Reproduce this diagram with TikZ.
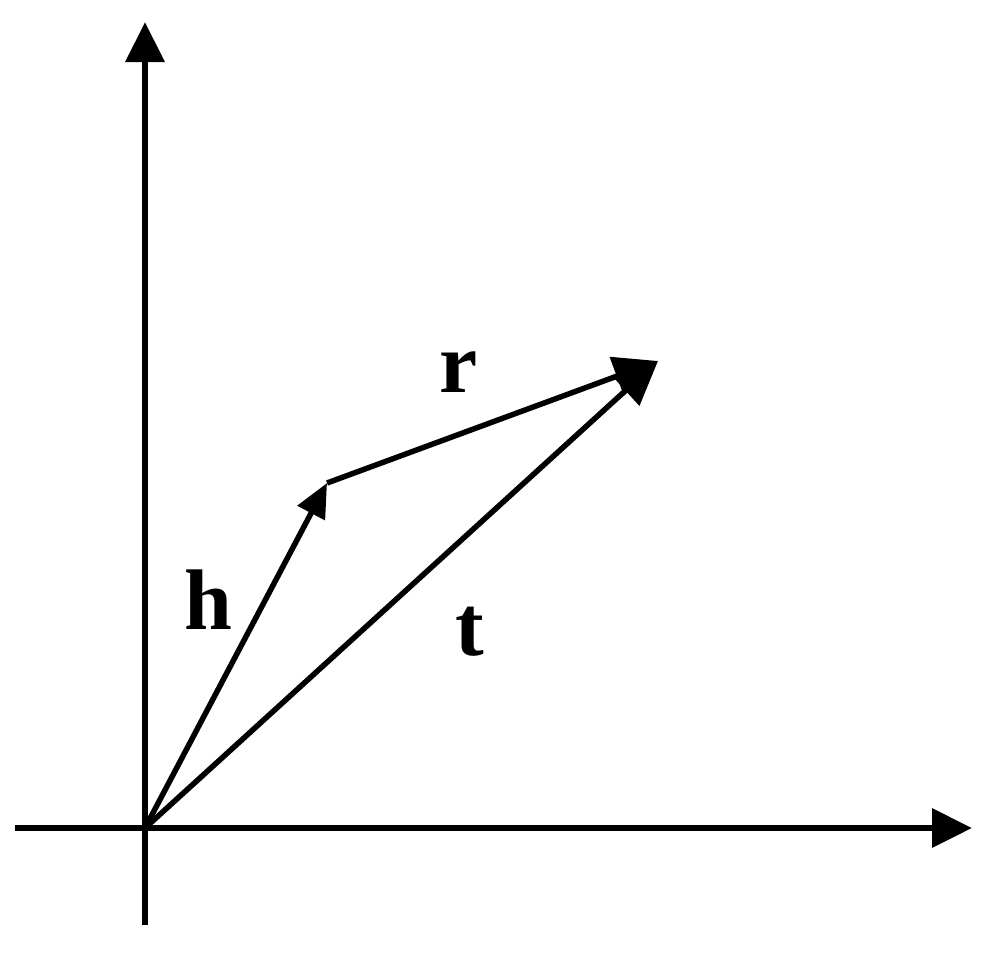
\documentclass[tikz,border=0pt]{standalone}
\usepackage{fontspec}
\setmainfont{Liberation Serif}
\usetikzlibrary{arrows.meta}
\begin{document}
\begin{tikzpicture}[x=1pt,y=-1pt,
  axis/.style={line width=6.5pt,-{Triangle[length=40pt,width=38pt]}},
  vecsmall/.style={line width=5.5pt,-{Triangle[length=34pt,width=30pt]}},
  vecbig/.style={line width=5.5pt,-{Triangle[length=44pt,width=40pt]}},
  lab/.style={font=\fontsize{86}{100}\selectfont\bfseries,inner sep=0pt}]
\useasboundingbox (0,0) rectangle (987,954);
\coordinate (O) at (145,828);
\coordinate (xl) at (15,828);
\coordinate (xr) at (972,828);
\coordinate (yb) at (145,925);
\coordinate (yt) at (145,22);
\coordinate (H) at (327,483);
\coordinate (T) at (658,361);
\draw[axis] (xl) -- (xr);
\draw[axis] (yb) -- (yt);
\draw[vecsmall] (O) -- (H);
\draw[vecbig] (H) -- (T);
\draw[vecbig] (O) -- (T);
\node[lab] (hl) at (208,600) {h};
\node[lab] (rl) at (459,372) {r};
\node[lab] (tl) at (470,632) {t};
\end{tikzpicture}
\end{document}
